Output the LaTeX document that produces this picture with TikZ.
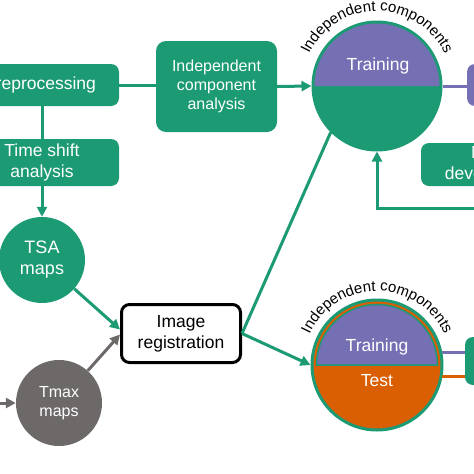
\documentclass[tikz,border=0pt]{standalone}
\usepackage{fontspec}
\setmainfont{Liberation Sans}
\usetikzlibrary{arrows.meta,decorations.text}
\definecolor{icagreen}{HTML}{1B9A74}
\definecolor{icapurple}{HTML}{7570B3}
\definecolor{icaorange}{HTML}{D95F02}
\definecolor{mapgrey}{HTML}{6D6969}
\newcommand\arcfont{\fontsize{15}{18}\selectfont}
\tikzset{
  link/.style={draw=icagreen, line width=3pt},
  greylink/.style={draw=mapgrey, line width=3pt},
  purplelink/.style={draw=icapurple, line width=3pt},
  orangelink/.style={draw=icaorange, line width=3pt},
  headed/.style={-{Triangle[length=10pt, width=10pt]}},
  arclabel/.style={decorate, decoration={text along path, text align=center, text={|\arcfont|Independent components}}}
}
\begin{document}
\begin{tikzpicture}[x=1pt, y=-1pt]

      \useasboundingbox (0,0) rectangle (474,474);
      \clip (0,0) rectangle (474,474);

      \begin{scope}[every node/.style={rounded corners=8pt, fill=icagreen, text=white, align=center, inner sep=0pt, font=\fontsize{17.5}{21}\selectfont}]
        \node[minimum width=158pt, minimum height=42pt] (prep) at (40,85) {Preprocessing};
        \node[minimum width=154pt, minimum height=47pt] (timeshift) at (42,162.5) {Time shift\\analysis};
        \node[minimum width=121pt, minimum height=91pt, rounded corners=10pt, font=\fontsize{16}{19}\selectfont] (ica) at (216.5,86.5) {Independent\\component\\analysis};
        \node[minimum width=148pt, minimum height=43pt] (model) at (495,164.5) {Model\\development};
        \node[fill=icapurple, minimum width=120pt, minimum height=42pt] (classtrain) at (527,85) {};
        \node[minimum width=120pt, minimum height=48pt] (classtest) at (525,361) {};
        \node[fill=white, draw=black, line width=3pt, text=black, minimum width=119pt, minimum height=58pt] (imreg) at (181,333.5) {Image\\registration};
      \end{scope}

      \begin{scope}[every node/.style={circle, inner sep=0pt, text=white, align=center, font=\fontsize{18}{21}\selectfont}]
        \node[fill=icagreen, minimum size=86pt] (tsamaps) at (42,260) {TSA\\maps};
        \node[fill=mapgrey, minimum size=86pt, font=\fontsize{16}{19}\selectfont] (tmaxmaps) at (59,403) {Tmax\\maps};
        \node[fill=icagreen, draw=icagreen, line width=3pt, minimum size=128pt] (train) at (377,86) {};
        \node[fill=icaorange, draw=icagreen, line width=3pt, minimum size=130pt] (test) at (377,365) {};
      \end{scope}

      \fill[icapurple] (314.5,86) arc[start angle=180, end angle=0, radius=62.5pt] -- cycle;
      \filldraw[fill=icapurple, draw=icagreen, line width=1.5pt] (316.5,365) arc[start angle=180, end angle=0, radius=60.5pt] -- cycle;

      \path[arclabel] (302,86) arc[start angle=180, end angle=0, radius=75pt];
      \path[arclabel] (303,365) arc[start angle=180, end angle=0, radius=74pt];

      \begin{scope}[every node/.style={text=white, font=\fontsize{17.5}{21}\selectfont}]
        \node (traintop) at (378,66) {Training};
        \node (trainbottom) at (377,347) {Training};
        \node (testbottom) at (377,381) {Test};
      \end{scope}

      \coordinate (tmaxin) at (-10,403);
      \coordinate (feedback) at (480,208);

      \path (prep.east) edge[link] (prep.east -| ica.west);
      \path (timeshift.north |- prep.south) edge[link] (timeshift.north);
      \path (timeshift) edge[link, headed] (tsamaps);
      \path (ica.east) edge[link, headed] (train.west);
      \path (train.225) edge[link] (imreg.east);
      \path (imreg.east) edge[link, headed] (test.west);
      \path (tsamaps) edge[link, headed] ([yshift=4pt]imreg.west);
      \path (tmaxmaps) edge[greylink, headed] ([yshift=-1pt]imreg.west);
      \path (tmaxin) edge[greylink, headed] (tmaxmaps);
      \path (train.east) edge[purplelink] (train.east -| classtrain.west);
      \path (test.11) edge[purplelink] (test.11 -| classtest.west);
      \path (test.-10) edge[orangelink] (test.-10 -| classtest.west);
      \draw[link, headed] (feedback) -| (train.south);

    \end{tikzpicture}
\end{document}
